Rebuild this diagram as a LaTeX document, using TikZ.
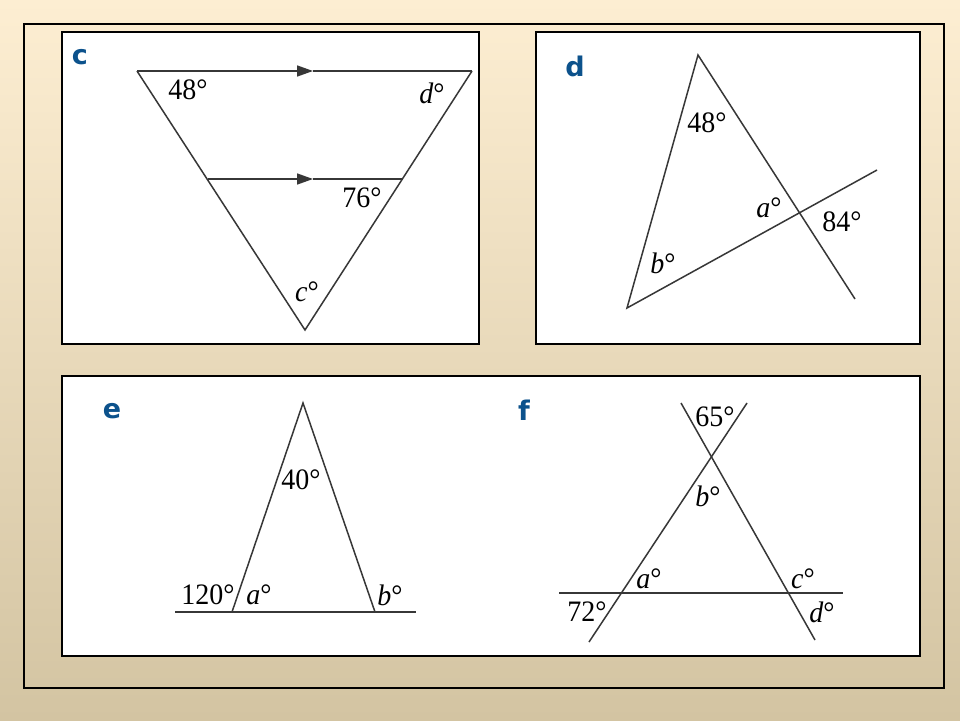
\documentclass[tikz,border=0pt]{standalone}
\usepackage{fontspec}
\setmainfont{Liberation Serif}
\newfontfamily\tagfont{DejaVu Sans}
\usetikzlibrary{arrows.meta}
\definecolor{bgtop}{RGB}{253,238,210}
\definecolor{bgbot}{RGB}{211,196,162}
\definecolor{tagblue}{RGB}{12,82,140}
\definecolor{linegray}{RGB}{55,55,55}
\newcommand{\drawline}{\draw[linegray, line width=1.5pt]}
\newcommand{\panelbox}[4]{\draw[fill=white, line width=1.1pt] (#1,#2) rectangle (#3,#4);}
\newcommand{\angletag}[3]{\node[font=\fontsize{28}{28}\selectfont, inner sep=0pt, yscale=1.06] (#1) at (#2) {#3};}
\newcommand{\parttag}[3]{\node[font=\fontsize{27}{27}\selectfont\tagfont\bfseries, text=tagblue, inner sep=0pt] (#1) at (#2) {#3};}
\tikzset{midarrow/.style={-{Triangle[length=16pt,width=11pt]}}}

\begin{document}
\begin{tikzpicture}[x=1pt,y=-1pt]
\shade[top color=bgtop, bottom color=bgbot] (0,0) rectangle (960,720);
\useasboundingbox (0,0) rectangle (960,720);
\draw[line width=1.4pt] (24,24) rectangle (944,688);
\panelbox{62}{32}{479}{344}
\panelbox{536}{32}{920}{344}
\panelbox{62}{376}{920}{656}
% c
\coordinate (cTL) at (137,71);
\coordinate (cTR) at (472,71);
\coordinate (cML) at (208,179);
\coordinate (cMR) at (402,179);
\coordinate (cB) at (305,330);
\coordinate (cTA) at (313,71);
\coordinate (cMA) at (313,179);
\drawline (cTL)--(cB)--(cTR);
\drawline[midarrow] (cTL)--(cTA);
\drawline (cTA)--(cTR);
\drawline[midarrow] (cML)--(cMA);
\drawline (cMA)--(cMR);
\parttag{tagc}{80,57}{c}
\angletag{c48}{188,90}{48°}
\angletag{cd}{432,93}{\textit{d}°}
\angletag{c76}{362,198}{76°}
\angletag{cc}{307,292}{\textit{c}°}
% d
\coordinate (dT) at (698,55);
\coordinate (dL) at (627,308);
\coordinate (dR) at (855,299);
\coordinate (dE) at (877,170);
\drawline (dR)--(dT)--(dL)--(dE);
\parttag{tagd}{575,66}{d}
\angletag{d48}{707,123}{48°}
\angletag{da}{769,208}{\textit{a}°}
\angletag{d84}{842,222}{84°}
\angletag{db}{663,263}{\textit{b}°}
% e
\coordinate (eT) at (303,403);
\coordinate (eL) at (232,612);
\coordinate (eR) at (375,612);
\coordinate (eW) at (175,612);
\coordinate (eE) at (416,612);
\drawline (eL)--(eT)--(eR);
\drawline (eW)--(eE);
\parttag{tage}{112,411}{e}
\angletag{e40}{301,480}{40°}
\angletag{e120}{208,595}{120°}
\angletag{ea}{259,595}{\textit{a}°}
\angletag{eb}{390,595}{\textit{b}°}
% f
\coordinate (fA1) at (589,642);
\coordinate (fA2) at (747,403);
\coordinate (fB1) at (681,403);
\coordinate (fB2) at (815,640);
\coordinate (fW) at (559,593);
\coordinate (fE) at (843,593);
\drawline (fA1)--(fA2);
\drawline (fB1)--(fB2);
\drawline (fW)--(fE);
\parttag{tagf}{524,410}{f}
\angletag{f65}{715,417}{65°}
\angletag{fb}{708,496}{\textit{b}°}
\angletag{fa}{649,579}{\textit{a}°}
\angletag{fc}{803,579}{\textit{c}°}
\angletag{f72}{587,612}{72°}
\angletag{fd}{822,612}{\textit{d}°}
\end{tikzpicture}
\end{document}
